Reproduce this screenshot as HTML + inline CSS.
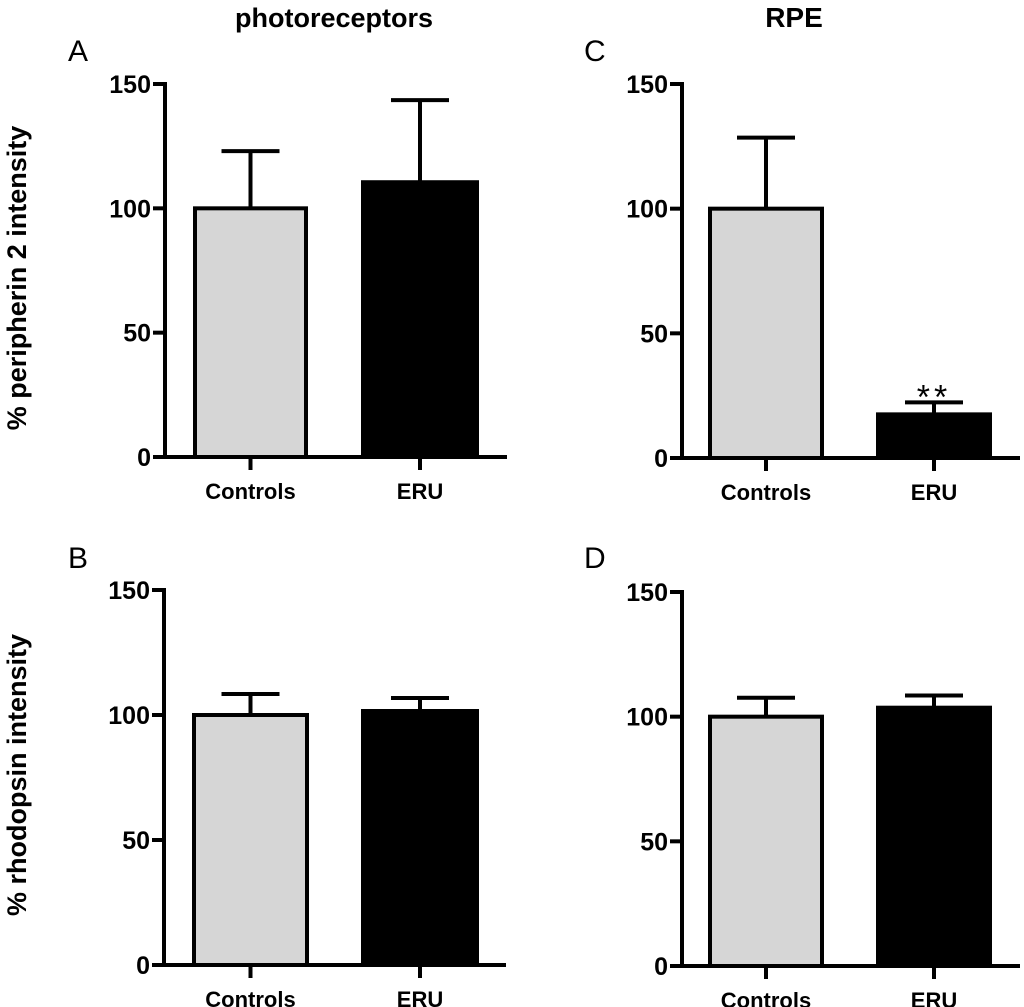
<!DOCTYPE html>
<html><head><meta charset="utf-8"><style>
html,body{margin:0;padding:0;background:#fff;}
svg{display:block;font-family:"Liberation Sans",Arial,sans-serif;}
</style></head><body>
<svg id="fig" width="1024" height="1007" viewBox="0 0 1024 1007">
<text x="334" y="27" text-anchor="middle" font-size="27" font-weight="bold">photoreceptors</text>
<text x="794" y="27" text-anchor="middle" font-size="28" font-weight="bold">RPE</text>
<text x="26" y="278" text-anchor="middle" font-size="27" font-weight="bold" transform="rotate(-90 26 278)">% peripherin 2 intensity</text>
<text x="26" y="775" text-anchor="middle" font-size="27" font-weight="bold" transform="rotate(-90 26 775)">% rhodopsin intensity</text>
</svg>
<script>
const categories = ["Controls", "ERU"];
const tickValues = [0, 50, 100, 150];
const meanA = [100, 110.5];
const errA = [123, 143.5];
const meanB = [100, 101.6];
const errB = [108.4, 106.8];
const meanC = [100, 17.5];
const errC = [128.5, 22.3];
const meanD = [100, 103.6];
const errD = [107.6, 108.5];

const NS = "http://www.w3.org/2000/svg";
const svg = document.getElementById('fig');
function mk(tag, attrs, parent) {
  const e = document.createElementNS(NS, tag);
  for (const k in attrs) e.setAttribute(k, attrs[k]);
  (parent || svg).appendChild(e);
  return e;
}
const panels = [
  {id:'a', letter:'A', lx:68, ly:61, ax:165, y0:457, y150:84, bars:[[195,306],[363,477]], xEnd:507, mean:meanA, err:errA},
  {id:'b', letter:'B', lx:68, ly:568, ax:164, y0:965, y150:590, bars:[[194,307],[363,477]], xEnd:506, mean:meanB, err:errB},
  {id:'c', letter:'C', lx:584, ly:61, ax:682, y0:458, y150:84, bars:[[710,822],[878,990]], xEnd:1020, mean:meanC, err:errC},
  {id:'d', letter:'D', lx:584, ly:568, ax:682, y0:966, y150:592, bars:[[710,822],[878,990]], xEnd:1020, mean:meanD, err:errD}
];
panels.forEach(p => {
  const g = mk('g', {});
  
  
  const yS = v => p.y0 - (p.y0 - p.y150) * v / 150;
  const lt = mk('text', {x:p.lx, y:p.ly, 'font-size':30}, g);
  lt.textContent = p.letter;
  
  
  categories.forEach((c, i) => {
    const [x1, x2] = p.bars[i];
    const cx = (x1 + x2) / 2;
    const eb = mk('g', {stroke:'#000', 'stroke-width':4}, g);
    
    
    mk('line', {x1:cx, x2:cx, y1:yS(p.mean[i]), y2:yS(p.err[i])}, eb);
    mk('line', {x1:cx - 29, x2:cx + 29, y1:yS(p.err[i]), y2:yS(p.err[i])}, eb);
    const r = mk('rect', {x:x1, y:yS(p.mean[i]), width:x2 - x1, height:p.y0 - yS(p.mean[i]),
      fill: i === 0 ? '#d6d6d6' : '#000', stroke:'#000', 'stroke-width':4}, g);
    
    
    const tk = mk('line', {x1:cx, x2:cx, y1:p.y0, y2:p.y0 + 13, stroke:'#000', 'stroke-width':4}, g);
    
    
    const t = mk('text', {x:cx, y:p.y0 + 42, 'text-anchor':'middle', 'font-size':22, 'font-weight':'bold'}, g);
    t.textContent = c;
    
    
  });
  const ya = mk('line', {x1:p.ax, x2:p.ax, y1:p.y150 - 2, y2:p.y0 + 2, stroke:'#000', 'stroke-width':4}, g);
  
  
  const xa = mk('line', {x1:p.ax - 12, x2:p.xEnd, y1:p.y0, y2:p.y0, stroke:'#000', 'stroke-width':4}, g);
  
  
  tickValues.forEach(v => {
    const y = yS(v);
    const tl = mk('line', {x1:p.ax - 12, x2:p.ax, y1:y, y2:y, stroke:'#000', 'stroke-width':4}, g);
    
    
    const t = mk('text', {x:p.ax - 14, y:y + 9, 'text-anchor':'end', 'font-size':25, 'font-weight':'bold'}, g);
    t.textContent = v;
    
    
  });
  if (p.id === 'c') {
    const cx = (p.bars[1][0] + p.bars[1][1]) / 2;
    const s = mk('text', {x:cx, y:yS(p.err[1]) + 6, 'text-anchor':'middle', 'font-size':34, 'letter-spacing':'4'}, g);
    s.textContent = '**';
    
    
  }
});
</script>
</body></html>
